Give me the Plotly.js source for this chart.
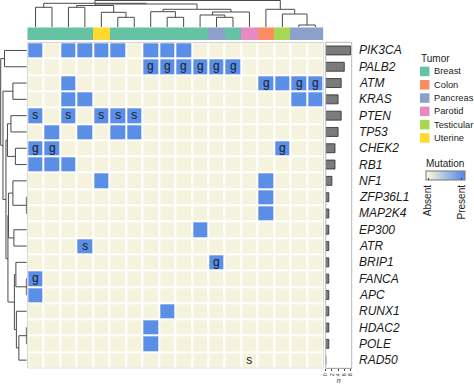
<!DOCTYPE html>
<html><head><meta charset="utf-8">
<script src="https://cdn.plot.ly/plotly-3.0.1.min.js"></script>
<style>html,body{margin:0;padding:0;background:#fff}#chart{width:474px;height:389px}</style>
</head><body><div id="chart"></div>
<script>
// ---------- data ----------
const genes = ['PIK3CA','PALB2','ATM','KRAS','PTEN','TP53','CHEK2','RB1','NF1','ZFP36L1',
               'MAP2K4','EP300','ATR','BRIP1','FANCA','APC','RUNX1','HDAC2','POLE','RAD50'];
const sampleTumor = ['Breast','Breast','Breast','Breast','Uterine','Breast','Breast','Breast','Breast',
                     'Breast','Breast','Pancreas','Breast','Parotid','Colon','Testicular','Pancreas','Pancreas'];
const tumorTypes = ['Breast','Colon','Pancreas','Parotid','Testicular','Uterine'];
const tumorColors = ['#66c2a5','#fc8d62','#8da0cb','#e78ac3','#a6d854','#ffd92f'];
// '.' absent, 'x' present, 'g' present (g), 's' present (s), 'S' absent with s label
const mutationRows = [
  'x.xxxx.xxx........',
  '.......gggggg.....',
  '..x...........gxgg',
  '..xx............xx',
  's.s.sss...........',
  '.x.x.xx...........',
  'gg.............g..',
  'xxx...............',
  '....x.........x...',
  '..............x...',
  '..............x...',
  '..........x.......',
  '...s..............',
  '...........g......',
  'g.................',
  'x.................',
  '........x.........',
  '.......x..........',
  '.......x..........',
  '.............S....'
];
const barTicks = [0,2,4,6,8];
const mutationTicks = ['Absent','Present'];
// dendrograms: [height, left, right]; leaves are column / row numbers
const colTree = [26.5,
  [23.7, [19.7,1,2],
     [23, [21.5,[19.7,3,4],[14.7,5,[9.7,6,7]]],
          [17.7,[15.3,8,[9.7,9,10]],[15,[12,11,[9.7,12,13]],14]]]],
  [17.7, 15, [13,16,[2,17,18]]]];
const rowTree = [26.3,
  [22.5,1,2],
  [24, [14,3,4],
     [21, [19.5,[16,5,6],[11.5,7,8]],
          [19, [18.5,[14,9,[0.4,10,11]],[13,12,13]],
               [12.5,[11,14,[0.4,15,16]],[10.5,17,[8,[0.4,18,19],20]]]]]]];

// ---------- build ----------
const FONT = 'Liberation Sans, Arial, sans-serif';
const W = 474, H = 389;
const px = v => v / W, py = v => 1 - v / H;
const codes = {'.':[0,''], 'x':[1,''], 'g':[1,'g'], 's':[1,'s'], 'S':[0,'s']};
const cols = sampleTumor.map((_, i) => i + 1);
const rows = genes.map((_, i) => i + 1);
const z = mutationRows.map(r => r.split('').map(c => codes[c][0]));
const txt = mutationRows.map(r => r.split('').map(c => codes[c][1]));
const counts = z.map(r => r.reduce((a, b) => a + b, 0));

function dendro(node, segs) {
  if (typeof node === 'number') return {pos: node, h: 0};
  const [h, a, b] = node;
  const A = dendro(a, segs), B = dendro(b, segs);
  segs.push([[A.pos, A.h], [A.pos, h], [B.pos, h], [B.pos, B.h]]);
  return {pos: (A.pos + B.pos) / 2, h};
}
const cSegs = [], rSegs = [];
dendro(colTree, cSegs); dendro(rowTree, rSegs);
const cx = [], cy = [], rx = [], ry = [];
cSegs.forEach(s => { s.forEach(p => { cx.push(p[0]); cy.push(p[1]); }); cx.push(null); cy.push(null); });
rSegs.forEach(s => { s.forEach(p => { ry.push(p[0]); rx.push(p[1]); }); rx.push(null); ry.push(null); });

const annColorscale = [];
tumorColors.forEach((c, i) => { annColorscale.push([i / tumorColors.length, c]); annColorscale.push([(i + 1) / tumorColors.length, c]); });

const traces = [
  {type:'heatmap', x: cols, y: rows, z: z, text: txt, texttemplate: '%{text}',
   textfont: {family: FONT, size: 12, color: '#1a1a22'},
   colorscale: [[0,'#fbfaf0'],[0.07,'#f5f3dd'],[0.93,'#5b8ee6'],[1,'#5b8ee6']],
   zmin: -0.08, zmax: 1.08, xgap: 2, ygap: 2, hoverinfo: 'skip',
   colorbar: {orientation: 'h', x: px(445), xanchor: 'center', y: py(170.7), yanchor: 'top',
     len: 38.6, lenmode: 'pixels', thickness: 9.3, thicknessmode: 'pixels', xpad: 0, ypad: 0,
     outlinewidth: 1, outlinecolor: '#777', tickvals: [0, 1], ticktext: mutationTicks,
     ticks: 'inside', ticklen: 2, tickcolor: '#333', tickangle: -90,
     tickfont: {family: FONT, size: 10, color: '#222'}}},
  {type:'heatmap', x: cols, y: [1], z: [sampleTumor.map(t => tumorTypes.indexOf(t))],
   xaxis: 'x', yaxis: 'y2', colorscale: annColorscale, zmin: -0.5, zmax: tumorTypes.length - 0.5,
   showscale: false, hoverinfo: 'skip'},
  {type:'bar', orientation: 'h', x: counts, y: rows, xaxis: 'x2', yaxis: 'y', width: 0.55,
   marker: {color: '#7b7b7b', line: {color: '#2a2a2a', width: 0.8}}, hoverinfo: 'skip'},
  {type:'scatter', mode: 'lines', x: cx, y: cy, xaxis: 'x3', yaxis: 'y3',
   line: {color: '#4a4a4a', width: 1}, hoverinfo: 'skip'},
  {type:'scatter', mode: 'lines', x: rx, y: ry, xaxis: 'x4', yaxis: 'y',
   line: {color: '#4a4a4a', width: 1}, hoverinfo: 'skip'}
];

const hx = [px(27.3), px(323.5)];
const annotations = genes.map((g, i) => ({
  xref: 'paper', yref: 'y', x: px(356.5), y: i + 1, xanchor: 'left', yanchor: 'middle',
  text: '<i>' + g + '</i>', showarrow: false, font: {family: FONT, size: 12, color: '#1a1a1a'}
}));
annotations.push({xref:'paper', yref:'paper', x: px(419), y: py(58.3), xanchor:'left', yanchor:'middle',
  text:'Tumor', showarrow:false, font:{family: FONT, size: 10, color:'#222'}});
annotations.push({xref:'paper', yref:'paper', x: px(444.5), y: py(163), xanchor:'center', yanchor:'middle',
  text:'Mutation', showarrow:false, font:{family: FONT, size: 10, color:'#222'}});
const shapes = [
  {type:'rect', xref:'x', yref:'y', x0: 0.5, x1: 18.5, y0: 0.5, y1: 20.5, line:{color:'#b8b8b8', width:1}},
  {type:'rect', xref:'x2 domain', yref:'y domain', x0: 0, x1: 1, y0: 0, y1: 1, line:{color:'#b8b8b8', width:1}}
];
tumorTypes.forEach((t, i) => {
  const top = 66.7 + 13.3 * i;
  shapes.push({type:'rect', xref:'paper', yref:'paper', x0: px(420), x1: px(429.5), y0: py(top + 9.5), y1: py(top),
    fillcolor: tumorColors[i], line:{width:0}});
  annotations.push({xref:'paper', yref:'paper', x: px(431.5), y: py(top + 4.75), xanchor:'left', yanchor:'middle',
    text: t, showarrow:false, font:{family: FONT, size: 9.3, color:'#222'}});
});

const layout = {
  width: W, height: H, margin: {l:0, r:0, t:0, b:0}, paper_bgcolor: '#fff', plot_bgcolor: '#fff',
  showlegend: false, font: {family: FONT},
  xaxis: {domain: hx, range: [0.5, 18.5], visible: false, anchor: 'y'},
  yaxis: {domain: [py(368.3), py(42.3)], range: [20.5, 0.5], visible: false, anchor: 'x'},
  yaxis2: {domain: [py(40), py(27.3)], range: [0.5, 1.5], visible: false, anchor: 'x'},
  xaxis2: {domain: [px(325.7), px(351.7)], range: [0, 8.4], anchor: 'y', showgrid: false, zeroline: false,
    showline: true, linecolor: '#444', linewidth: 0.8, ticks: 'outside', ticklen: 2, tickcolor: '#444',
    tickvals: barTicks, tickangle: -90, tickfont: {family: FONT, size: 5.5, color: '#333'},
    title: {text: '<i>n</i>', font: {family: FONT, size: 7, color: '#333'}, standoff: 2}},
  xaxis3: {domain: hx, range: [0.5, 18.5], visible: false, anchor: 'y3'},
  yaxis3: {domain: [py(27), 1], range: [0, 27], visible: false, anchor: 'x3'},
  xaxis4: {domain: [0, px(26.8)], range: [27, 0], visible: false, anchor: 'y'},
  shapes: shapes, annotations: annotations
};
Plotly.newPlot('chart', traces, layout, {staticPlot: true, displayModeBar: false});
</script></body></html>
